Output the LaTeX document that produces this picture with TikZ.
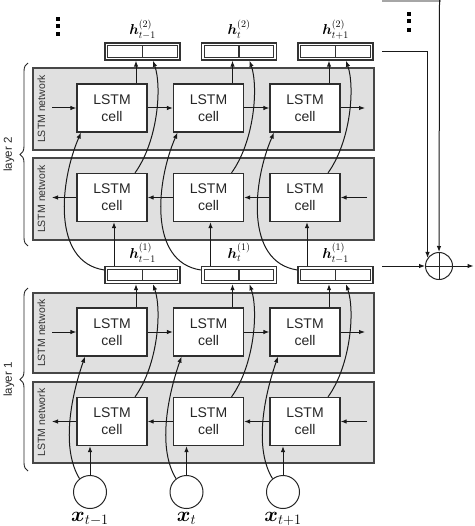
\documentclass[tikz,border=0pt]{standalone}
\usepackage{amsmath}
\usepackage{bm}
\usepackage{fontspec}
\newfontfamily\lsans{Liberation Sans}
\usetikzlibrary{arrows.meta,calc,decorations.pathreplacing}
\begin{document}
\begin{tikzpicture}[x=1pt,y=-1pt,
  arr/.style={-{Latex[length=6pt,width=4.5pt]}, line width=1pt, draw=black!90},
  net/.style={draw=black!72, fill=black!12, line width=1.3pt, minimum width=341pt, inner sep=0},
  cellbox/.style={draw=black!82, fill=white, line width=1.2pt, minimum width=70pt, minimum height=48pt, inner sep=0, align=center, text=black!85, font=\lsans\fontsize{14}{17}\selectfont},
  hvec/.style={draw=black!80, line width=1.4pt, fill=white, minimum width=75pt, minimum height=17pt, inner sep=0},
  hinner/.style={draw=black!80, line width=1.1pt},
  xin/.style={circle, draw=black!85, fill=white, line width=1pt, minimum size=33pt, inner sep=0},
  sumnode/.style={circle, draw=black!85, line width=1pt, minimum size=27pt, inner sep=0},
  netlab/.style={rotate=90, font=\lsans\fontsize{10.5}{12}\selectfont, text=black!80, inner sep=0},
  laylab/.style={rotate=90, font=\lsans\fontsize{11.5}{13}\selectfont, text=black!85, inner sep=0},
  hlab/.style={anchor=base, font=\fontsize{14.5}{17}\selectfont, inner sep=0},
  xlab/.style={anchor=base, font=\fontsize{20}{24}\selectfont, inner sep=0},
  bracepath/.style={decorate, decoration={brace, amplitude=8pt}, line width=0.9pt, draw=black!85},
  dotsq/.style={fill=black}
]
\useasboundingbox (0,0) rectangle (474,526);
% networks
\node[net, minimum height=82pt] (N2f) at (203.5,109) {};
\node[net, minimum height=82pt] (N2b) at (203.5,199) {};
\node[net, minimum height=80pt] (N1f) at (203.5,333) {};
\node[net, minimum height=81pt] (N1b) at (203.5,422.5) {};
\foreach \n in {N2f,N2b,N1f,N1b} \node[netlab] (L\n) at ($(\n.west)+(9,0)$) {LSTM network};
% braces
\coordinate (B2a) at (28,246); \coordinate (B2b) at (28,63);
\coordinate (B1a) at (28,471); \coordinate (B1b) at (28,288);
\draw[bracepath] (B2a) -- (B2b);
\draw[bracepath] (B1a) -- (B1b);
\node[laylab] (lay2) at (9,154.5) {layer 2};
\node[laylab] (lay1) at (9,379.5) {layer 1};
% columns
\foreach \i/\c/\ha/\hb/\xs in {1/112/t-1/t-1/t-1, 2/208.5/t/t/t, 3/305/t+1/t-1/t+1} {
  \node[cellbox] (Af\i) at (\c,108) {LSTM\\cell};
  \node[cellbox] (Ab\i) at (\c,197.5) {LSTM\\cell};
  \node[cellbox] (Bf\i) at (\c,332) {LSTM\\cell};
  \node[cellbox] (Bb\i) at (\c,421.5) {LSTM\\cell};
  \node[hvec] (H\i) at (\c+30.5,51.5) {};
  \node[hvec] (G\i) at (\c+30.5,275) {};
  \node[xin] (X\i) at (\c-22,492) {};
  \draw[hinner] ($(H\i.north west)+(3.5,3.5)$) rectangle ($(H\i.south east)+(-3.5,-3.5)$);
  \draw[hinner] ($(H\i.north)+(0,3.5)$) -- ($(H\i.south)+(0,-3.5)$);
  \draw[hinner] ($(G\i.north west)+(3.5,3.5)$) rectangle ($(G\i.south east)+(-3.5,-3.5)$);
  \draw[hinner] ($(G\i.north)+(0,3.5)$) -- ($(G\i.south)+(0,-3.5)$);
  \node[hlab] (HL\i) at ($(H\i.north)+(0,-7.5)$) {$\bm{h}_{\ha}^{(2)}$};
  \node[hlab] (GL\i) at ($(G\i.north)+(0,-7.5)$) {$\bm{h}_{\hb}^{(1)}$};
  \node[xlab] (XL\i) at ($(X\i.south)+(0,12)$) {$\bm{x}_{\xs}$};
  % vertical arrows
  \draw[arr] ([xshift=24pt]Af\i.north) -- ([xshift=-6.5pt]H\i.south);
  \draw[arr] ([xshift=24pt]Bf\i.north) -- ([xshift=-6.5pt]G\i.south);
  \draw[arr] ([xshift=-28.5pt]G\i.north) -- ([xshift=2pt]Ab\i.south);
  \draw[arr] (X\i.north) -- (X\i.north |- Bb\i.south);
  % curved arrows
  \draw[arr] ([xshift=23pt]Ab\i.north) .. controls +(23,-32) and +(9,26) .. ([xshift=10.5pt]H\i.south);
  \draw[arr] ([xshift=23pt]Bb\i.north) .. controls +(23,-32) and +(9,26) .. ([xshift=10.5pt]G\i.south);
  \draw[arr] ([yshift=5pt]G\i.west) .. controls +(-53,-8) and +(-21,48) .. ([xshift=-31pt]Af\i.south);
  \draw[arr] (X\i.128) .. controls +(-18,-29) and +(-15,43) .. ([xshift=-27pt]Bf\i.south);
}
% horizontal arrows
\coordinate (a0) at (52,108); \coordinate (a4) at (365,108);
\coordinate (b0) at (52,197.5); \coordinate (b4) at (367,197.5);
\coordinate (c0) at (52,332); \coordinate (c4) at (365,332);
\coordinate (d0) at (52,421.5); \coordinate (d4) at (367,421.5);
\draw[arr] (a0) -- (Af1.west);
\draw[arr] (Af1.east) -- (Af2.west);
\draw[arr] (Af2.east) -- (Af3.west);
\draw[arr] (Af3.east) -- (a4);
\draw[arr] (Ab1.west) -- (b0);
\draw[arr] (Ab2.west) -- (Ab1.east);
\draw[arr] (Ab3.west) -- (Ab2.east);
\draw[arr] (b4) -- (Ab3.east);
\draw[arr] (c0) -- (Bf1.west);
\draw[arr] (Bf1.east) -- (Bf2.west);
\draw[arr] (Bf2.east) -- (Bf3.west);
\draw[arr] (Bf3.east) -- (c4);
\draw[arr] (Bb1.west) -- (d0);
\draw[arr] (Bb2.west) -- (Bb1.east);
\draw[arr] (Bb3.west) -- (Bb2.east);
\draw[arr] (d4) -- (Bb3.east);
% sum node
\node[sumnode] (S) at (439,266) {};
\draw[line width=1pt, draw=black!85] (S.north) -- (S.south);
\draw[line width=1pt, draw=black!85] (S.west) -- (S.east);
\coordinate (h2o) at (382,52);
\coordinate (h1o) at (382,266);
\coordinate (topin) at (439.5,0);
\coordinate (sout) at (473.5,266);
\coordinate (ga) at (382,0.8); \coordinate (gb) at (440.5,0.8);
\draw[black!35, line width=1.6pt] (ga) -- (gb);
\draw[arr] (h2o) -| (S.145);
\draw[arr] (topin) -- (S.north);
\draw[arr] (h1o) -- (S.west);
\draw[arr] (S.east) -- (sout);
% dots
\foreach \y in {17,24.5,32} \fill[dotsq] (56,\y) rectangle +(4,4);
\foreach \y in {12,19.5,28} \fill[dotsq] (407,\y) rectangle +(3.7,3.7);
\end{tikzpicture}
\end{document}
